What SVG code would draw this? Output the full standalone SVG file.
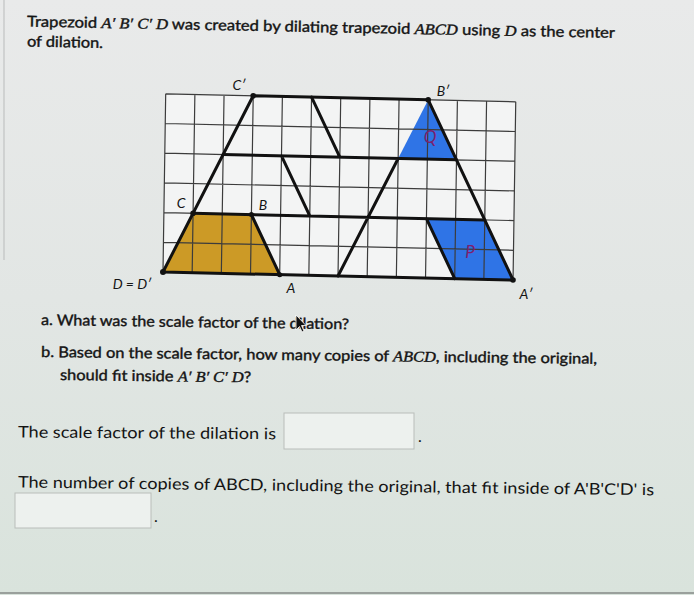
<svg xmlns="http://www.w3.org/2000/svg" width="694" height="595" viewBox="0 0 694 595">
<defs>
<linearGradient id="bg" x1="0" y1="0" x2="0" y2="1">
<stop offset="0" stop-color="#e9eaea"/>
<stop offset="0.5" stop-color="#e2e6e4"/>
<stop offset="1" stop-color="#d9e3dc"/>
</linearGradient>
<style>
.t{font-family:Lato,"Noto Sans",sans-serif;fill:#141414}
.b{stroke:#141414;stroke-width:0.4}
.m{font-family:"Liberation Serif","Times New Roman",serif;font-style:italic}
.lbl{font-family:Lato,"Noto Sans",sans-serif;font-size:14px;fill:#151515;font-style:italic}
.pq{font-family:Lato,"Noto Sans",sans-serif;font-size:17px;font-style:italic;fill:#7d1f6e}
.grid{stroke:#3c3c3c;stroke-width:1.2;fill:none;vector-effect:non-scaling-stroke}
.thick{stroke:#111;stroke-width:3;fill:none;stroke-linejoin:round;stroke-linecap:round;vector-effect:non-scaling-stroke}
.dot{fill:#111}
.box{fill:#edf1ee;stroke:#b9bdba;stroke-width:1}
</style>
</defs>
<rect width="694" height="595" fill="url(#bg)"/>
<line x1="4" y1="0" x2="4" y2="260" stroke="#b9bbbb" stroke-width="1"/>
<line x1="0" y1="593" x2="694" y2="593" stroke="#9aa09c" stroke-width="2"/>

<g id="title">
<text class="t b" font-size="15" transform="rotate(1.1 27 26)" x="27" y="26.5" textLength="588" lengthAdjust="spacingAndGlyphs">Trapezoid <tspan class="m">A′ B′ C′ D</tspan> was created by dilating trapezoid <tspan class="m">ABCD</tspan> using <tspan class="m">D</tspan> as the center</text>
<text class="t b" font-size="15" transform="rotate(1.1 27 46)" x="27" y="46.5" textLength="76" lengthAdjust="spacingAndGlyphs">of dilation.</text>
</g>

<g id="figure" transform="matrix(29.17 0.667 -0.45 29.7 163 272)">
<rect x="0" y="-6" width="12" height="6" fill="#f3f4f4"/>
<g id="fills">
<polygon points="0,0 4,0 3,-2 1,-2" fill="#cc9a26"/>
<polygon points="9,-6 8,-4 10,-4" fill="#2f74e6"/>
<polygon points="9,-2 11,-2 12,0 10,0" fill="#2f74e6"/>
</g>
<g id="grid">
<path class="grid" d="M0,0V-6M1,0V-6M2,0V-6M3,0V-6M4,0V-6M5,0V-6M6,0V-6M7,0V-6M8,0V-6M9,0V-6M10,0V-6M11,0V-6M12,0V-6M0,0H12M0,-1H12M0,-2H12M0,-3H12M0,-4H12M0,-5H12M0,-6H12"/>
</g>
<g id="connectors">
<path class="thick" d="M0,0 L12,0 L9,-6 L3,-6 Z"/>
<path class="thick" d="M1,-2 L11,-2 M2,-4 L10,-4 M5,-6 L6,-4 M4,-4 L5,-2 M8,-4 L6,0 M9,-2 L10,0 M4,0 L3,-2"/>
</g>
</g>

<g id="points">
<circle class="dot" cx="163" cy="272" r="3"/>
<circle class="dot" cx="279.7" cy="274.7" r="2.5"/>
<circle class="dot" cx="251.4" cy="214.6" r="2.5"/>
<circle class="dot" cx="193.1" cy="213.3" r="2.8"/>
<circle class="dot" cx="253.2" cy="95.8" r="2.8"/>
<circle class="dot" cx="428.2" cy="99.8" r="2.8"/>
<circle class="dot" cx="513" cy="280" r="2.8"/>
</g>

<g id="labels">
<text class="lbl" x="239" y="90" text-anchor="middle">C′</text>
<text class="lbl" x="443" y="96" text-anchor="middle">B′</text>
<text class="lbl" x="181" y="208" text-anchor="middle">C</text>
<text class="lbl" x="263" y="210" text-anchor="middle">B</text>
<text class="lbl" x="291" y="293" text-anchor="middle">A</text>
<text class="lbl" x="526" y="299" text-anchor="middle">A′</text>
<text class="lbl" x="132" y="289" text-anchor="middle">D = D′</text>
<text class="pq" x="430" y="143" text-anchor="middle">Q</text>
<text class="pq" x="470" y="258" text-anchor="middle">P</text>
</g>

<g id="questions">
<text class="t b" font-size="15" transform="rotate(0.8 41 325)" x="41" y="325" textLength="308" lengthAdjust="spacingAndGlyphs">a. What was the scale factor of the dilation?</text>
<text class="t b" font-size="15" transform="rotate(0.7 41 357)" x="41" y="357" textLength="556" lengthAdjust="spacingAndGlyphs">b. Based on the scale factor, how many copies of <tspan class="m">ABCD</tspan>, including the original,</text>
<text class="t b" font-size="15" transform="rotate(0.7 60 380)" x="60" y="380" textLength="191" lengthAdjust="spacingAndGlyphs">should fit inside <tspan class="m">A′ B′ C′ D</tspan>?</text>
</g>

<g id="cursor">
<polygon points="296,315 296,330 299.5,326.5 302,332 304,331 301.5,325.5 306,325.5" fill="#111" stroke="#fff" stroke-width="0.8"/>
</g>

<g id="answers">
<text class="t" font-size="16" transform="rotate(0.4 18 437)" x="18" y="437.5" textLength="258" lengthAdjust="spacingAndGlyphs">The scale factor of the dilation is</text>
<rect class="box" x="284" y="413" width="130" height="36"/>
<text class="t" font-size="16" x="418" y="442">.</text>
<text class="t" font-size="16" transform="rotate(0.7 18 487)" x="18" y="487.5" textLength="636" lengthAdjust="spacingAndGlyphs">The number of copies of ABCD, including the original, that fit inside of A'B'C'D' is</text>
<rect class="box" x="15" y="493" width="136" height="35"/>
<text class="t" font-size="16" x="154" y="522">.</text>
</g>
</svg>
